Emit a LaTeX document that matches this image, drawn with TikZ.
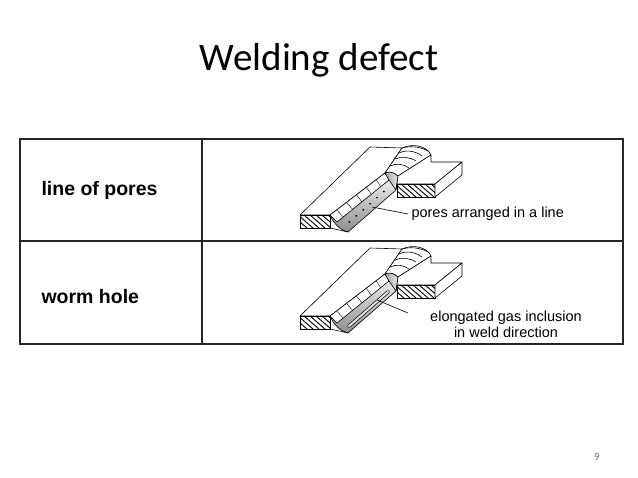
\documentclass[tikz,border=0pt]{standalone}
\usepackage{fontspec}
\setmainfont{Carlito}
\newfontfamily\arial{Liberation Sans}
\usetikzlibrary{calc}
\begin{document}
\begin{tikzpicture}[x=1pt,y=-1pt,
  grid/.style={line width=1.6pt,draw=black!85},
  lbl/.style={font=\arial\bfseries\fontsize{19.5}{22}\selectfont,anchor=west},
  captxt/.style={font=\arial\fontsize{14.5}{16}\selectfont,align=center},
  ln/.style={line width=0.6pt,line join=round}]
\newcommand{\myhatch}[4]{%
  \begin{scope}\clip (#1,#2) rectangle (#3,#4);
    \foreach \u in {-20,-14,...,60} \draw[line width=0.9pt] (#1+\u,#2) -- (#1+\u+15,#4);
  \end{scope}
  \draw[ln] (#1,#2) rectangle (#3,#4);}
\useasboundingbox (0,0) rectangle (638,478);
\node[font=\fontsize{39}{44}\selectfont] (title) at (319,60) {Welding defect};
\draw[grid] (20,139) rectangle (623,344);
\draw[grid] (20,241) -- (623,241);
\draw[grid] (202,139) -- (202,344);
\node[lbl] (l1) at (38,190) {line of pores};
\node[lbl] (l2) at (38,297) {worm hole};
\node[font=\fontsize{11}{12}\selectfont,text=black!55] (pg) at (597,457) {9};
\foreach \dy/\k in {0/1,101/2}{
\begin{scope}[yshift=-\dy]
 \draw[ln,fill=white] (300,215) -- (370,147) -- (402,148) -- (385,173) -- (330,215) -- cycle;
 \myhatch{300}{215}{330}{228}
 \shade[ln,top color=black!8,bottom color=black!45] (330,215) .. controls (334,224) and (340,230) .. (348,232) -- (396,190) -- (389,180) -- cycle;
 \draw[ln,fill=white] (330,215) -- (385,173) -- (389,180) -- (337,222) -- cycle;
 \foreach \s in {0.12,0.3,0.48,0.66,0.84}
   \draw[ln,line width=0.4pt] ($(330,215)!\s!(385,173)$) -- ($(337,222)!\s!(389,180)$);
 \draw[ln] (330,215) .. controls (334,224) and (340,230) .. (348,232) -- (396,190);
 \draw[ln] (330,228) -- (348,232);
 \shade[left color=black!35,right color=black!10] (385,173) .. controls (389,171) and (394,172) .. (398,176) -- (396,190) -- (389,180) -- cycle;
 \draw[ln] (385,173) .. controls (389,171) and (394,172) .. (398,176) -- (396,190) -- (389,180) -- cycle;
 \draw[ln,fill=white] (385,173) -- (402,148) .. controls (413,143) and (427,146) .. (431,155) -- (398,176) .. controls (394,172) and (389,171) .. (385,173);
 \draw[ln] (390,166) .. controls (396,163) and (404,164) .. (409,168);
 \draw[ln] (395,159) .. controls (401,156) and (410,157) .. (416,161);
 \draw[ln] (399,153) .. controls (405,150) and (414,150) .. (422,156);
 \draw[ln] (402,148) .. controls (409,146) and (419,146) .. (428,151);
 \draw[ln,fill=white] (397,184) -- (398,176) -- (431,155) -- (431,162) -- (462,162) -- (435,184) -- cycle;
 \myhatch{397}{184}{435}{197}
 \draw[ln,fill=white] (435,184) -- (462,162) -- (462,175) -- (435,197) -- cycle;
 \draw[ln] (396,190) -- (397,184);
\end{scope}}
\foreach \t in {0.08,0.24,0.4,0.56,0.72,0.88}
  \fill ($(346,225)!\t!(389,187)$) circle (1);
\coordinate (p1) at (372,207);
\node[captxt,anchor=west] (c1) at (408,214) {pores arranged in a line};
\draw[ln] (p1) -- (c1.west);
\draw[ln,fill=black!10,line width=0.5pt,rounded corners=1.2pt] (347,326) -- (388,290) -- (390,292) -- (349,328) -- cycle;
\coordinate (p2) at (377,300);
\node[captxt] (c2) at (506,324) {elongated gas inclusion\\in weld direction};
\draw[ln] (p2) -- (408,313);
\end{tikzpicture}
\end{document}
